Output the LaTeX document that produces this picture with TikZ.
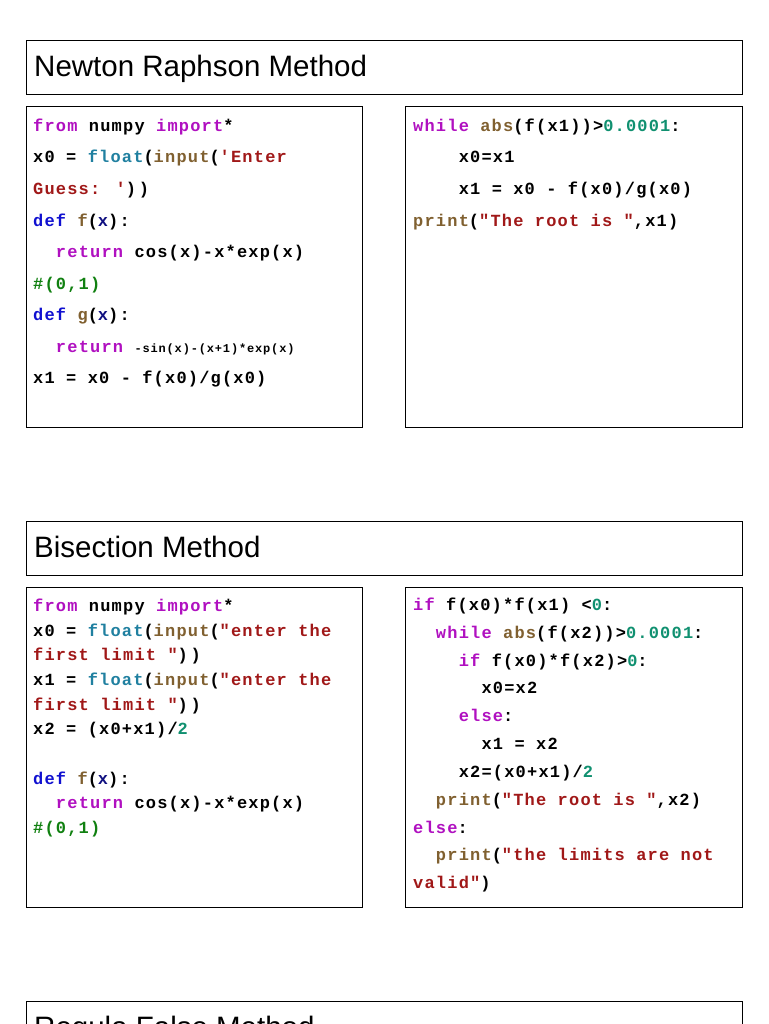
\documentclass[tikz,border=0pt]{standalone}
\usepackage{fontspec}
\setmainfont{Liberation Sans}
\newfontfamily\codefont[LetterSpace=7]{Liberation Mono}
\definecolor{kwp}{HTML}{B010C0}
\definecolor{kwd}{HTML}{1010D0}
\definecolor{var}{HTML}{101080}
\definecolor{fn}{HTML}{806030}
\definecolor{tl}{HTML}{2080A0}
\definecolor{str}{HTML}{A01818}
\definecolor{cm}{HTML}{108010}
\definecolor{num}{HTML}{109070}
\newcommand{\Kp}[1]{\textcolor{kwp}{#1}}
\newcommand{\Kd}[1]{\textcolor{kwd}{#1}}
\newcommand{\Vr}[1]{\textcolor{var}{#1}}
\newcommand{\Fn}[1]{\textcolor{fn}{#1}}
\newcommand{\Tl}[1]{\textcolor{tl}{#1}}
\newcommand{\St}[1]{\textcolor{str}{#1}}
\newcommand{\Cm}[1]{\textcolor{cm}{#1}}
\newcommand{\Nm}[1]{\textcolor{num}{#1}}
\tikzset{
 panel/.style={draw=black,line width=1pt},
 code/.style={anchor=base west,inner sep=0pt,font=\codefont\bfseries\fontsize{17}{17}\selectfont},
 ttl/.style={anchor=base west,inner sep=0pt,font=\fontsize{29.5}{29.5}\selectfont}
}
\begin{document}
\begin{tikzpicture}[x=1pt,y=-1pt]
\useasboundingbox (0,0) rectangle (768,1024);
\draw[panel] (26,41) rectangle (742,95);
\node[ttl] (t1) at (34,77) {Newton Raphson Method};
\draw[panel] (26,107) rectangle (362,427);
\draw[panel] (405,107) rectangle (742,427);
\node[code] (a1) at (33,132) {\Kp{from} numpy \Kp{import}*};
\node[code] (a2) at (33,163) {x0 = \Tl{float}(\Fn{input}(\St{'Enter}};
\node[code] (a3) at (33,195) {\St{Guess: '})\,)};
\node[code] (a4) at (33,226) {\Kd{def} \Fn{f}(\Vr{x}):};
\node[code] (a5) at (33,257) {\ \ \Kp{return} cos(x)-x*exp(x)};
\node[code] (a6) at (33,289) {\Cm{\#(0,1)}};
\node[code] (a7) at (33,320) {\Kd{def} \Fn{g}(\Vr{x}):};
\node[code] (a8) at (33,352) {\ \ \Kp{return} {\fontsize{12}{12}\selectfont -sin(x)-(x+1)*exp(x)}};
\node[code] (a9) at (33,383) {x1 = x0 - f(x0)/g(x0)};
\node[code] (b1) at (413,132) {\Kp{while} \Fn{abs}(f(x1))>\Nm{0.0001}:};
\node[code] (b2) at (413,163) {\ \ \ \ x0=x1};
\node[code] (b3) at (413,195) {\ \ \ \ x1 = x0 - f(x0)/g(x0)};
\node[code] (b4) at (413,226) {\Fn{print}(\St{"The root is "},x1)};
\draw[panel] (26,521) rectangle (742,575);
\node[ttl] (t2) at (34,557) {Bisection Method};
\draw[panel] (26,587) rectangle (362,907);
\draw[panel] (405,587) rectangle (742,907);
\node[code] (c1) at (33,611) {\Kp{from} numpy \Kp{import}*};
\node[code] (c2) at (33,636) {x0 = \Tl{float}(\Fn{input}(\St{"enter the}};
\node[code] (c3) at (33,660) {\St{first limit "})\,)};
\node[code] (c4) at (33,685) {x1 = \Tl{float}(\Fn{input}(\St{"enter the}};
\node[code] (c5) at (33,710) {\St{first limit "})\,)};
\node[code] (c6) at (33,734) {x2 = (x0+x1)/\Nm{2}};
\node[code] (c7) at (33,784) {\Kd{def} \Fn{f}(\Vr{x}):};
\node[code] (c8) at (33,808) {\ \ \Kp{return} cos(x)-x*exp(x)};
\node[code] (c9) at (33,833) {\Cm{\#(0,1)}};
\node[code] (d1) at (413,610) {\Kp{if} f(x0)*f(x1) <\Nm{0}:};
\node[code] (d2) at (413,638) {\ \ \Kp{while} \Fn{abs}(f(x2))>\Nm{0.0001}:};
\node[code] (d3) at (413,666) {\ \ \ \ \Kp{if} f(x0)*f(x2)>\Nm{0}:};
\node[code] (d4) at (413,693) {\ \ \ \ \ \ x0=x2};
\node[code] (d5) at (413,721) {\ \ \ \ \Kp{else}:};
\node[code] (d6) at (413,749) {\ \ \ \ \ \ x1 = x2};
\node[code] (d7) at (413,777) {\ \ \ \ x2=(x0+x1)/\Nm{2}};
\node[code] (d8) at (413,805) {\ \ \Fn{print}(\St{"The root is "},x2)};
\node[code] (d9) at (413,833) {\Kp{else}:};
\node[code] (d10) at (413,860) {\ \ \Fn{print}(\St{"the limits are not}};
\node[code] (d11) at (413,888) {\St{valid"})};
\draw[panel] (26,1024) -- (26,1001) -- (742,1001) -- (742,1024);
\node[ttl] (t3) at (34,1037) {Regula False Method};
\end{tikzpicture}
\end{document}
